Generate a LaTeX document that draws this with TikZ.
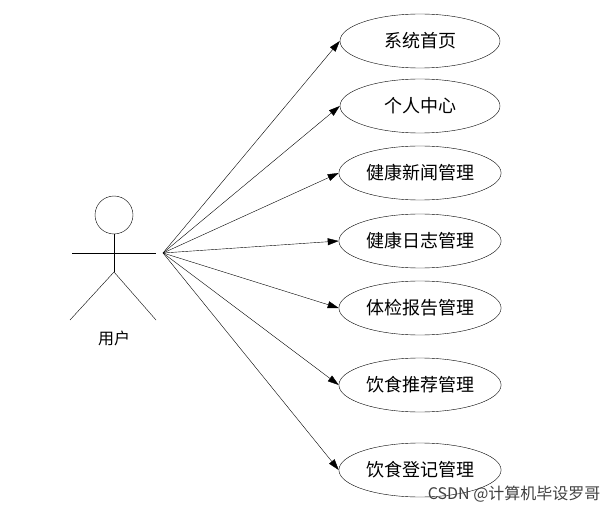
\documentclass[tikz,border=0pt]{standalone}
\usepackage{fontspec}
\newfontfamily\cjk{Noto Sans CJK SC}
\usetikzlibrary{arrows.meta,shapes.geometric}
\begin{document}
\begin{tikzpicture}[x=1pt,y=-1pt,
  usecase/.style={draw, ellipse, minimum width=160pt, minimum height=54pt, font=\cjk\fontsize{18}{18}\selectfont},
  link/.style={-{Triangle[length=11pt,width=7pt]}}]
\useasboundingbox (0,0) rectangle (616,513);
% actor
\node [circle, draw, minimum size=38pt, inner sep=0pt] (head) at (114,215) {};
\coordinate (hip) at (114,272);
\coordinate (hand) at (163,253);
\draw (head.south) -- (hip);
\draw (72,253) -- (156,253);
\draw (hip) -- (70,320); \draw (hip) -- (156,320);
\node [font=\cjk\fontsize{16}{16}\selectfont] (user) at (114,338) {用户};
% use cases
\node [usecase] (u1) at (420,41) {系统首页};
\node [usecase] (u2) at (420,106) {个人中心};
\node [usecase] (u3) at (420,173) {健康新闻管理};
\node [usecase] (u4) at (420,241) {健康日志管理};
\node [usecase] (u5) at (420,308) {体检报告管理};
\node [usecase] (u6) at (420,385) {饮食推荐管理};
\node [usecase] (u7) at (420,470) {饮食登记管理};
\foreach \u in {u1,u2,u3,u4,u5,u6,u7}
  \draw [link] (hand) -- (\u.west);
\node [anchor=east, text=black!75, font=\cjk\fontsize{16}{16}\selectfont] (mark) at (604,494) {CSDN @计算机毕设罗哥};
\end{tikzpicture}
\end{document}
